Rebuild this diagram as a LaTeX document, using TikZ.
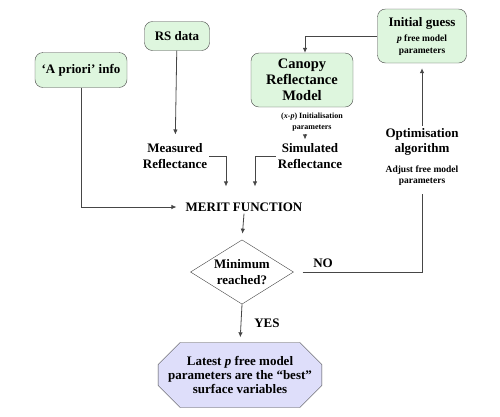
\documentclass[tikz,border=0pt]{standalone}
\usepackage{fontspec}
\setmainfont{Liberation Serif}
\usetikzlibrary{arrows.meta,shapes.geometric,shapes.misc}

\definecolor{boxgreen}{RGB}{222,246,222}
\definecolor{boxblue}{RGB}{222,222,250}
\definecolor{edge}{RGB}{70,70,70}

\newcommand{\mainfnt}{\fontsize{13}{15.5}\selectfont\bfseries}
\newcommand{\bigfnt}{\fontsize{14.5}{16}\selectfont\bfseries}
\newcommand{\smallfnt}{\fontsize{9.5}{11}\selectfont\bfseries}
\newcommand{\tinyfnt}{\fontsize{8}{11}\selectfont\bfseries}

\begin{document}
\begin{tikzpicture}[x=1pt,y=-1pt,
  box/.style={draw=edge,fill=boxgreen,rounded corners=8pt,align=center,inner sep=2pt},
  txt/.style={align=center,inner sep=2pt},
  arr/.style={draw=edge,line width=0.8pt,-{Latex[length=5pt,width=4.5pt]}},
  ln/.style={draw=edge,line width=0.8pt}]
\useasboundingbox (0,0) rectangle (500,416);

% boxes
\node[box,font=\mainfnt,minimum width=92pt,minimum height=35pt] (apriori) at (81,70) {‘A priori’ info};
\node[box,font=\mainfnt,minimum width=65pt,minimum height=29pt] (rs) at (177,36) {RS data};
\node[box,font=\bigfnt,minimum width=102pt,minimum height=54pt] (canopy) at (302,80) {Canopy\\Reflectance\\Model};
\node[box,minimum width=89pt,minimum height=54pt] (init) at (422,36)
  {{\mainfnt Initial guess}\\[3pt]{\smallfnt\textit{p} free model}\\{\smallfnt parameters}};

% texts
\node[txt,font=\mainfnt] (measured) at (175,156) {Measured\\Reflectance};
\node[txt,font=\tinyfnt] (initp) at (312,122) {(\textit{x-p}) Initialisation\\parameters};
\node[txt,font=\mainfnt] (simulated) at (310,156) {Simulated\\Reflectance};
\node[txt,font=\mainfnt] (opt) at (422,142) {Optimisation\\algorithm};
\node[txt,font=\smallfnt] (adjust) at (422,176) {Adjust free model\\parameters};
\node[txt,font=\mainfnt] (merit) at (244,207) {MERIT FUNCTION};

% decision and result
\node[draw=edge,fill=white,diamond,minimum width=103pt,minimum height=63pt,inner sep=-4pt,
  align=center,font=\mainfnt] (minimum) at (242,272) {Minimum\\reached?};
\node[draw=edge,fill=boxblue,chamfered rectangle,chamfered rectangle xsep=10pt,
  chamfered rectangle ysep=12pt,minimum width=143pt,minimum height=65pt,inner sep=0pt,
  align=center,font=\fontsize{13}{14}\selectfont\bfseries] (best) at (240,375)
  {Latest \textit{p} free model\\parameters are the “best”\\surface variables};
\node[txt,font=\mainfnt] (no) at (323,263) {NO};
\node[txt,font=\mainfnt] (yes) at (267,323) {YES};

% connectors
\draw[arr,shorten >=7pt] (rs) -- (measured);
\draw[arr,shorten >=14pt] (measured.east) -| ([xshift=-18pt]merit.north);
\draw[arr,shorten >=14pt] (simulated.west) -| ([xshift=11pt]merit.north);
\draw[arr,shorten >=7pt] (apriori.south) |- (merit.west);
\draw[arr] (init.west) -| ([xshift=3pt]canopy.north);
\draw[arr,shorten <=1pt,shorten >=2pt] ([xshift=-7pt]initp.south) -- ([xshift=-5pt]simulated.north);
\draw[arr,shorten >=6pt] (merit.south) -- (minimum.north);
\draw[arr,shorten >=5pt] (minimum.south) -- (best.north);
\draw[ln,shorten <=9pt,shorten >=6pt] (minimum.east) -| (adjust.south);
\draw[arr,shorten >=5pt] (opt) -- (init);
\end{tikzpicture}
\end{document}
